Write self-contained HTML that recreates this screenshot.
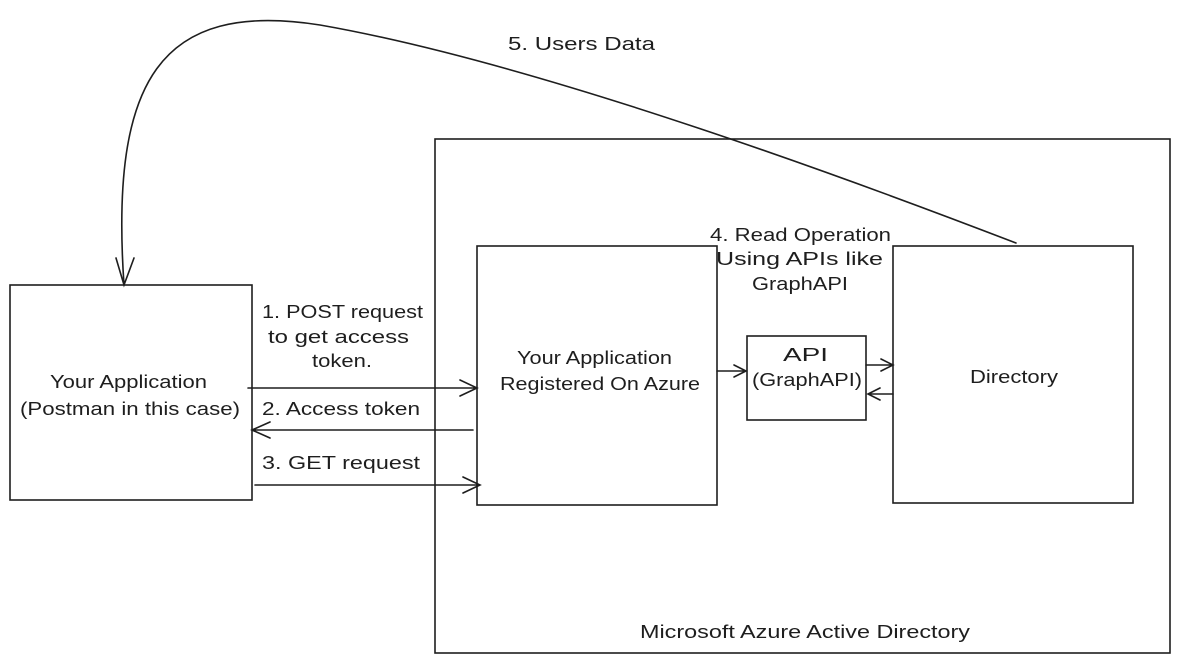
<!DOCTYPE html>
<html><head><meta charset="utf-8"><style>
html,body{margin:0;padding:0;background:#fff;}
svg{display:block;}
text{font-family:"Liberation Sans",sans-serif;font-size:18px;fill:#1e1e1e;}
</style></head><body>
<svg width="1180" height="663" viewBox="0 0 1180 663" xmlns="http://www.w3.org/2000/svg">
<g fill="none" stroke="#1e1e1e" stroke-width="1.6" stroke-linecap="round">
<rect x="10" y="285" width="242" height="215"/>
<rect x="435" y="139" width="735" height="514"/>
<rect x="477" y="246" width="240" height="259"/>
<rect x="747" y="336" width="119" height="84"/>
<rect x="893" y="246" width="240" height="257"/>
<path d="M248 388 L477 388 M460 380 L477 388 L460 396"/>
<path d="M473 430 L252 430 M270 422 L252 430 L270 438"/>
<path d="M255 485 L480 485 M463 477 L480 485 L463 493"/>
<path d="M717 371 L746 371 M734 365 L746 371 L734 377"/>
<path d="M866 365 L893 365 M881 359 L893 365 L881 371"/>
<path d="M893 394 L868 394 M880 388 L868 394 L880 400"/>
<path d="M1016 243 C 800 160, 520 60, 320 25 C 160 0, 110 80, 124 285 M116 258 L124 285 L134 258"/>
</g>
<g lengthAdjust="spacingAndGlyphs">
<text x="50" y="388" textLength="157" lengthAdjust="spacingAndGlyphs">Your Application</text>
<text x="20" y="415" textLength="220" lengthAdjust="spacingAndGlyphs">(Postman in this case)</text>
<text x="517" y="364" textLength="155" lengthAdjust="spacingAndGlyphs">Your Application</text>
<text x="500" y="390" textLength="200" lengthAdjust="spacingAndGlyphs">Registered On Azure</text>
<text x="783" y="361" textLength="45" lengthAdjust="spacingAndGlyphs">API</text>
<text x="752" y="386" textLength="110" lengthAdjust="spacingAndGlyphs">(GraphAPI)</text>
<text x="970" y="383" textLength="88" lengthAdjust="spacingAndGlyphs">Directory</text>
<text x="710" y="241" textLength="181" lengthAdjust="spacingAndGlyphs">4. Read Operation</text>
<text x="716" y="265" textLength="167" lengthAdjust="spacingAndGlyphs">Using APIs like</text>
<text x="752" y="290" textLength="96" lengthAdjust="spacingAndGlyphs">GraphAPI</text>
<text x="262" y="318" textLength="161" lengthAdjust="spacingAndGlyphs">1. POST request</text>
<text x="268" y="343" textLength="141" lengthAdjust="spacingAndGlyphs">to get access</text>
<text x="312" y="367" textLength="60" lengthAdjust="spacingAndGlyphs">token.</text>
<text x="640" y="638" textLength="330" lengthAdjust="spacingAndGlyphs">Microsoft Azure Active Directory</text>
<text x="508" y="50" textLength="147" lengthAdjust="spacingAndGlyphs">5. Users Data</text>
<text x="262" y="415" textLength="158" lengthAdjust="spacingAndGlyphs">2. Access token</text>
<text x="262" y="469" textLength="158" lengthAdjust="spacingAndGlyphs">3. GET request</text>
</g>
</svg>
</body></html>
